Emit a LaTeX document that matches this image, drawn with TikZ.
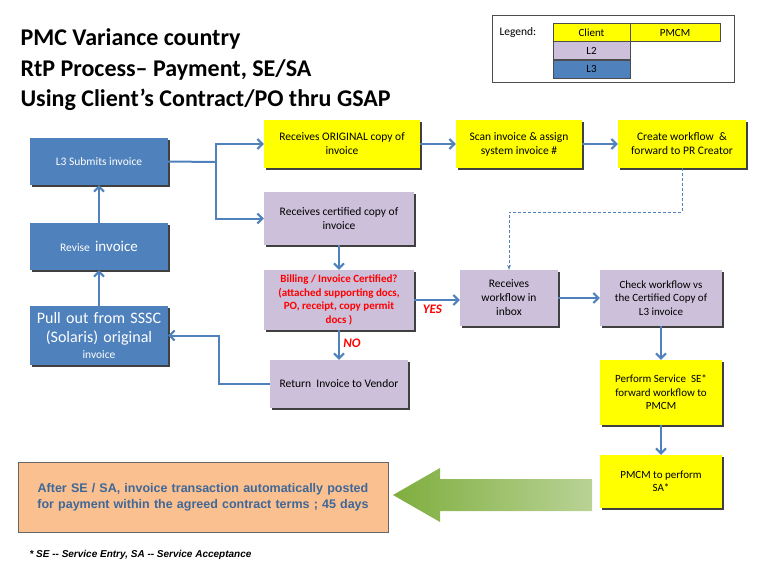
\documentclass[tikz,border=0pt]{standalone}
\usepackage{fontspec}
\setmainfont{Carlito}
\newfontfamily\arialf{Liberation Sans}
\usetikzlibrary{shadows,arrows.meta}
\definecolor{bblue}{HTML}{4F81BD}
\definecolor{lav}{HTML}{CCC0DA}
\definecolor{yel}{HTML}{FFFF00}
\definecolor{orng}{HTML}{FAC090}
\definecolor{grn}{HTML}{7FAE3E}
\definecolor{ared}{HTML}{FF0000}
\begin{document}
\lefthyphenmin=64 \hyphenpenalty=10000
\begin{tikzpicture}[x=1pt,y=-1pt,
 box/.style={draw=none,align=center,inner sep=2pt,drop shadow={shadow xshift=2pt,shadow yshift=-2pt,fill=black!75,opacity=1},font=\fontsize{11.5}{14}\selectfont},
 bx/.style={box,fill=bblue,text=white},
 lx/.style={box,fill=lav},
 yx/.style={box,fill=yel},
 arr/.style={draw=bblue,line width=2pt,-{Straight Barb[length=5pt,width=10pt]}},
 leg/.style={draw=black!70,line width=0.6pt,minimum width=77pt,minimum height=18pt,inner sep=0pt,font=\fontsize{11}{12}\selectfont}]
\useasboundingbox (0,0) rectangle (768,576);
% title
\node[anchor=west,font=\fontsize{24}{28}\selectfont\bfseries] (t1) at (17,39) {PMC Variance country};
\node[anchor=west,font=\fontsize{24}{28}\selectfont\bfseries] (t2) at (17,70) {RtP Process-- Payment, SE/SA};
\node[anchor=west,font=\fontsize{24}{28}\selectfont\bfseries] (t3) at (17,100) {Using Client’s Contract/PO thru GSAP};
% legend
\node[draw=black!70,line width=0.6pt,minimum width=242pt,minimum height=67pt] (lg) at (613,48.5) {};
\node[anchor=west,font=\fontsize{11.5}{12}\selectfont] (lgt) at (496,32) {Legend:};
\node[leg,fill=yel] (lc) at (591.5,32.5) {Client};
\node[leg,fill=yel,minimum width=90pt] (lp) at (675,32.5) {PMCM};
\node[leg,fill=lav] (l2) at (591.5,50.5) {L2};
\node[leg,fill=bblue] (l3) at (591.5,69) {L3};
% left blue
\node[bx,minimum width=138pt,minimum height=47pt] (sub) at (99,161.5) {L3 Submits invoice};
\node[bx,minimum width=138pt,minimum height=47pt] (rev) at (99,246.5) {Revise\ \ {\fontsize{15}{17}\selectfont invoice}};
\node[bx,minimum width=138pt,minimum height=59pt,text width=134pt,font=\fontsize{16}{19}\selectfont] (pull) at (99,335.5) {Pull out from SSSC\\(Solaris) original\\[-3pt]{\fontsize{11.5}{13}\selectfont invoice}};
% middle
\node[yx,minimum width=156pt,minimum height=48pt] (orig) at (342,144) {Receives ORIGINAL copy of\\invoice};
\node[lx,minimum width=150pt,minimum height=53pt] (cert) at (339,218.5) {Receives certified copy of\\invoice};
\node[lx,minimum width=150pt,minimum height=60pt,text=ared,font=\fontsize{11}{13.5}\selectfont\bfseries] (bill) at (339,300) {Billing / Invoice Certified?\\(attached supporting docs,\\PO, receipt, copy permit\\docs )};
\node[lx,minimum width=138pt,minimum height=48pt] (ret) at (339,384) {Return\ \ Invoice to Vendor};
% right
\node[yx,minimum width=126pt,minimum height=48pt] (scan) at (519,144) {Scan invoice \& assign\\system invoice \#};
\node[yx,minimum width=128pt,minimum height=48pt] (wf) at (682,144) {Create workflow\ \ \&\\forward to PR Creator};
\node[lx,minimum width=98pt,minimum height=56pt] (rwf) at (509,298) {Receives\\workflow in\\inbox};
\node[lx,minimum width=122pt,minimum height=56pt,font=\fontsize{11}{13.5}\selectfont] (chk) at (661,298) {Check workflow vs\\the Certified Copy of\\L3 invoice};
\node[yx,minimum width=122pt,minimum height=65pt,font=\fontsize{11}{13.5}\selectfont] (pse) at (661,392.5) {Perform Service\ \ SE*\\forward workflow to\\PMCM};
\node[yx,minimum width=122pt,minimum height=53pt,font=\fontsize{11}{13.5}\selectfont] (pma) at (661,481.5) {PMCM to perform\\SA*};
% orange
\node[draw=black!60,fill=orng,line width=0.5pt,minimum width=370pt,minimum height=70pt,text width=350pt,align=center,font=\arialf\fontsize{12.5}{16}\selectfont\bfseries,text=bblue!80!black] (post) at (203,497) {After SE / SA, invoice transaction automatically posted for payment within the agreed contract terms ; 45 days};
% green arrow
\shade[left color=grn,right color=grn!55!white,draw=none] (393,495) -- (440,468) -- (440,479) -- (592,479) -- (592,511) -- (440,511) -- (440,522) -- cycle;
% footnote
\node[anchor=west,font=\arialf\fontsize{10}{12}\selectfont\bfseries\itshape] (fn) at (26,555) {* SE -- Service Entry, SA -- Service Acceptance};
% connectors
\coordinate (br) at (216,162);
\draw[draw=bblue,line width=2pt] (sub.east) -- (br);
\draw[arr] (br) |- (orig.west);
\draw[arr] (br) |- (cert.west);
\draw[arr] (orig) -- (scan);
\draw[arr] (scan) -- (wf);
\draw[arr] (cert) -- (bill);
\draw[arr] (bill) -- node[right,text=ared,font=\fontsize{13}{15}\selectfont\bfseries\itshape,pos=0.45]{NO} (ret);
\draw[arr] (bill.east) -- node[below,text=ared,font=\fontsize{13}{15}\selectfont\bfseries\itshape,pos=0.4,yshift=-1pt]{YES} (rwf.west|-bill.east);
\draw[arr] (rwf) -- (chk);
\draw[arr] (chk) -- (pse);
\draw[arr] (pse) -- (pma);
\draw[arr] (ret.west) -- (219,384) |- (pull.east);
\draw[arr] (pull) -- (rev);
\draw[arr] (rev) -- (sub);
\draw[draw=bblue,densely dashed,line width=0.7pt,-{Stealth[length=5pt]}] (wf.south) -- (682,212) -| (rwf.north);
\end{tikzpicture}
\end{document}
